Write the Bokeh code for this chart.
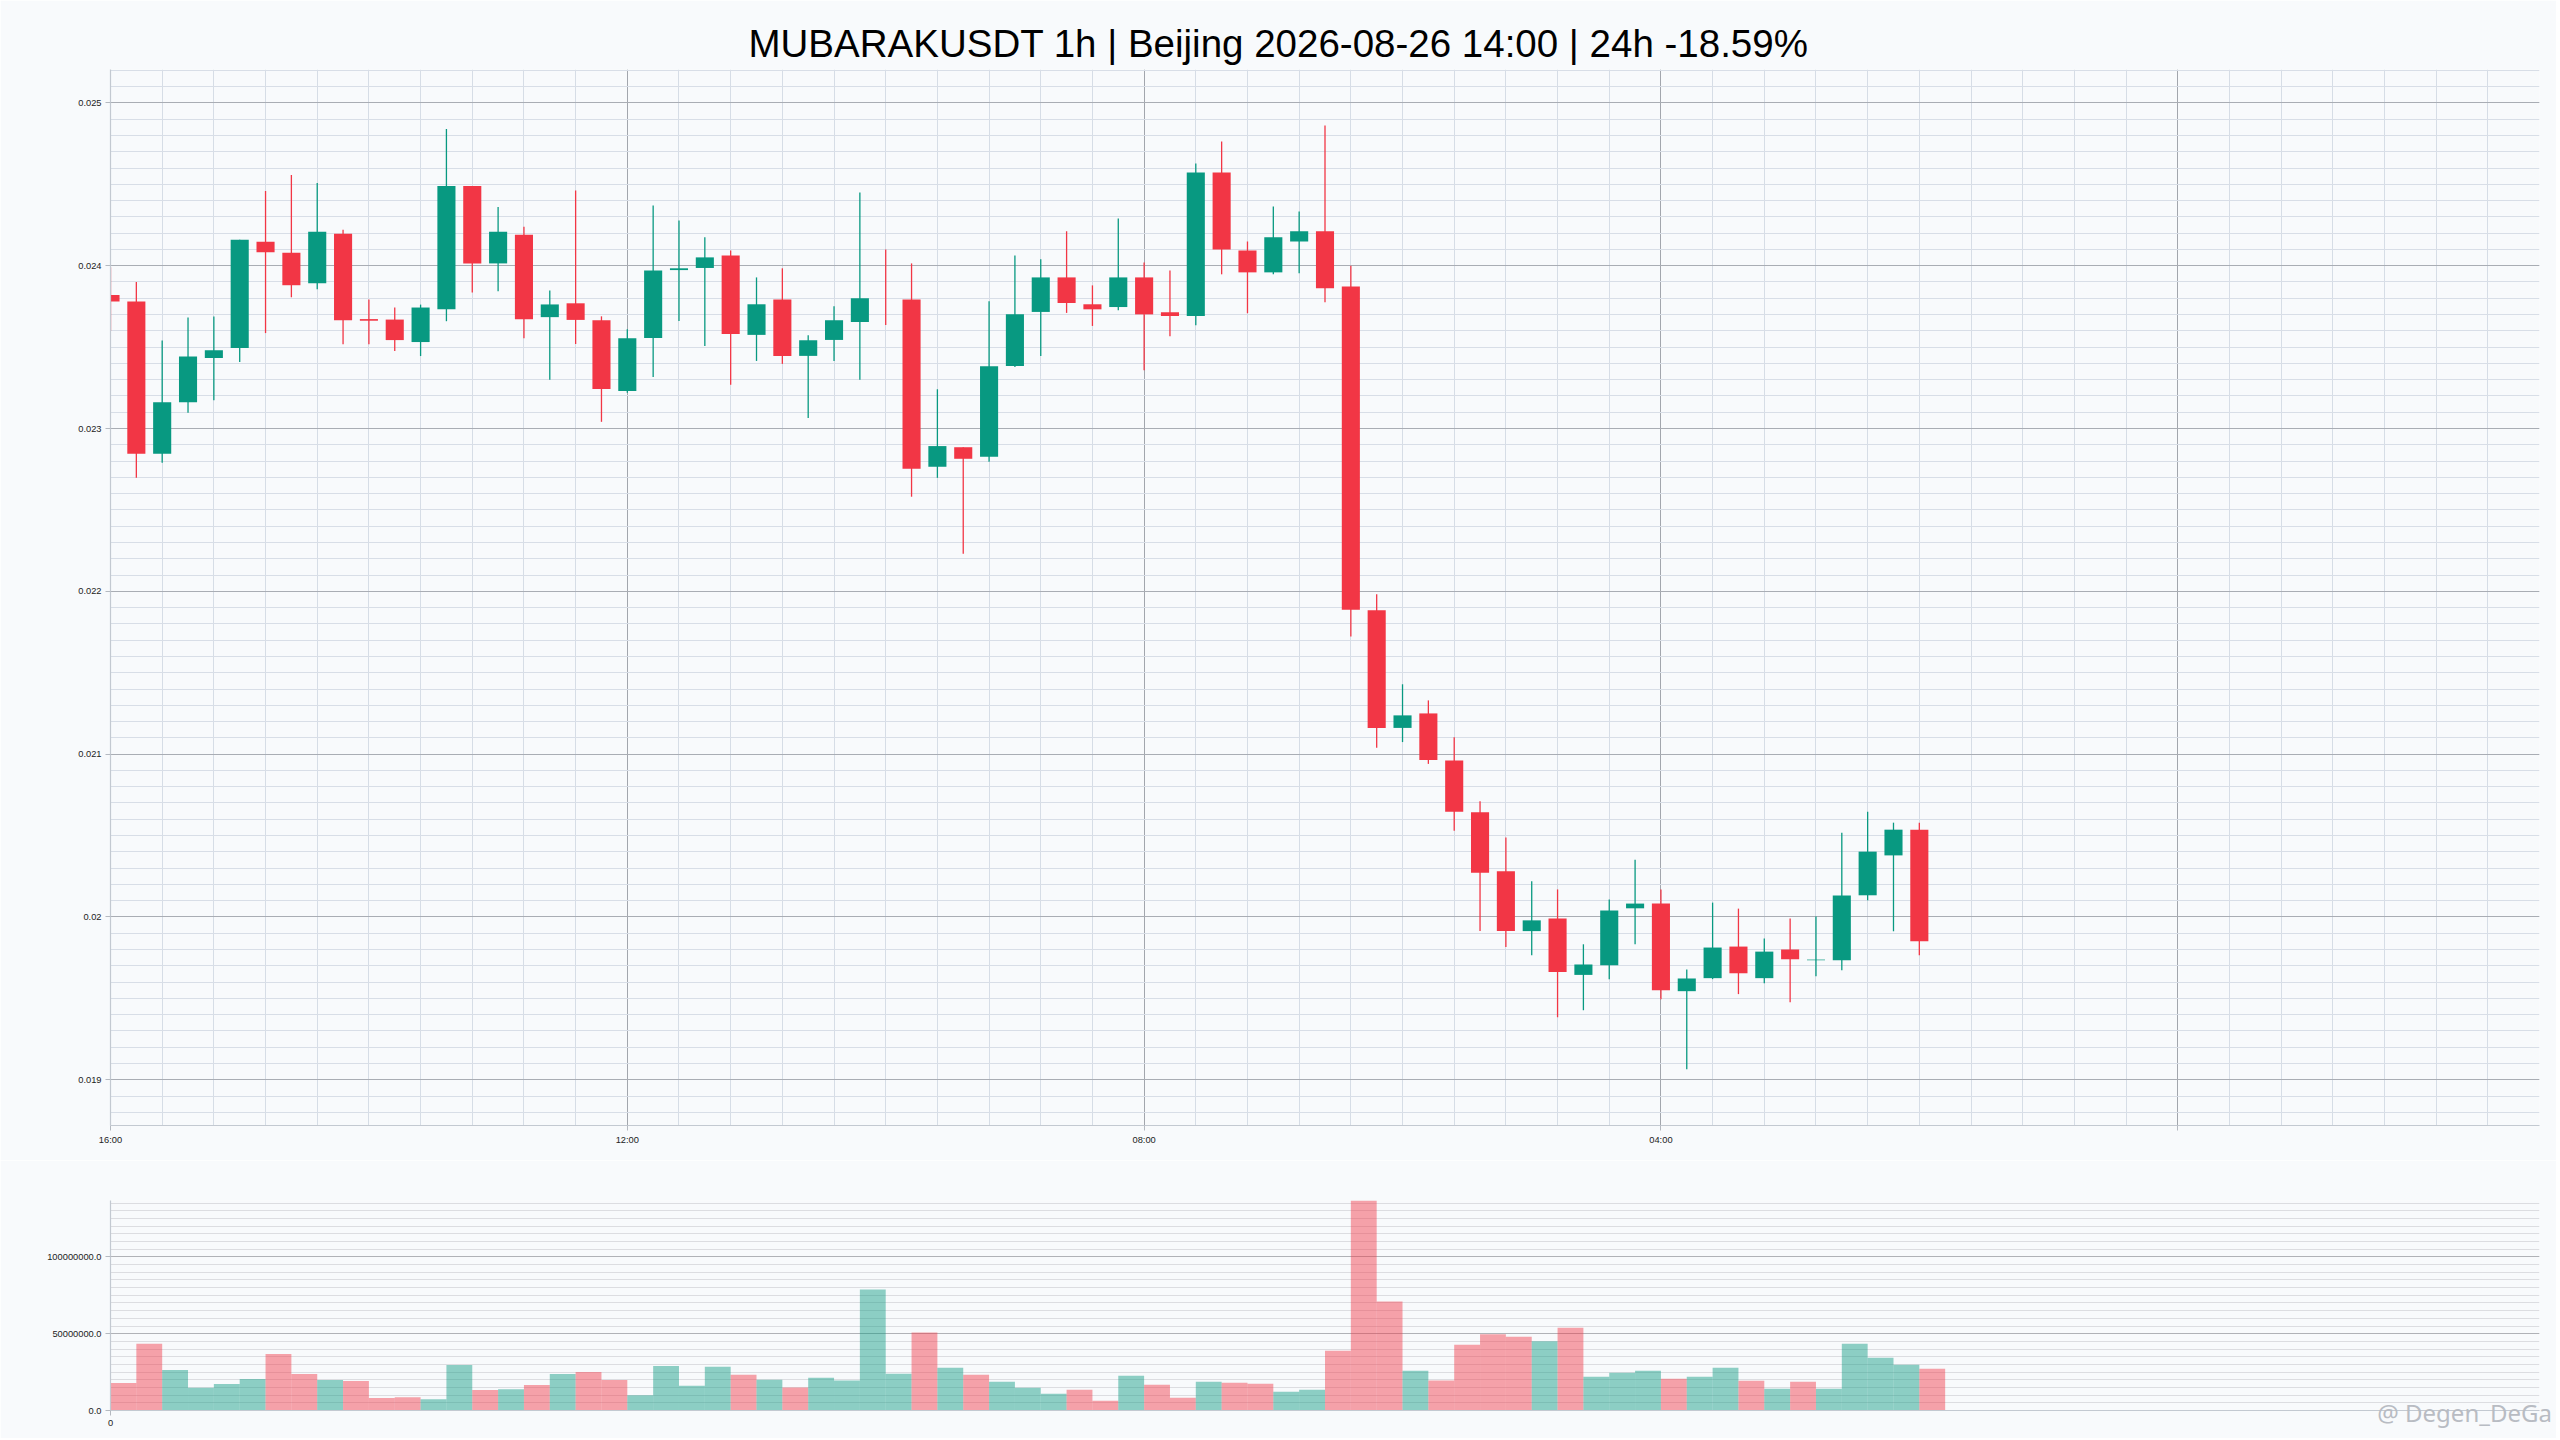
import numpy as np
from bokeh.plotting import figure
from bokeh.layouts import column
from bokeh.models import FixedTicker, ColumnDataSource, Range1d, LinearAxis
from bokeh.embed import file_html
from bokeh.resources import INLINE

title_text = "MUBARAKUSDT 1h | Beijing 2026-08-26 14:00 | 24h -18.59%"

opens = [0.023820, 0.023780, 0.022845, 0.023161, 0.023433, 0.023494, 0.024147, 0.024080, 0.023892, 0.024196,
         0.023672, 0.023669, 0.023531, 0.023733, 0.024490, 0.024014, 0.024190, 0.023684, 0.023769, 0.023665,
         0.023231, 0.023556, 0.023973, 0.023986, 0.024063, 0.023575, 0.023793, 0.023446, 0.023544, 0.023654,
         0.023800, 0.023793, 0.022765, 0.022885, 0.022826, 0.023384, 0.023716, 0.023928, 0.023763, 0.023746,
         0.023928, 0.023714, 0.023691, 0.024573, 0.024094, 0.023959, 0.024149, 0.024211, 0.023872, 0.021884,
         0.021161, 0.021250, 0.020961, 0.020643, 0.020280, 0.019913, 0.019990, 0.019644, 0.019704, 0.020053,
         0.020082, 0.019544, 0.019624, 0.019818, 0.019624, 0.019800, 0.019734, 0.019734, 0.020133, 0.020378,
         0.020536]
highs = [0.023990, 0.023900, 0.023541, 0.023682, 0.023688, 0.024159, 0.024459, 0.024557, 0.024508, 0.024220,
         0.023792, 0.023743, 0.023761, 0.024839, 0.024490, 0.024361, 0.024239, 0.023847, 0.024462, 0.023689,
         0.023609, 0.024370, 0.024278, 0.024174, 0.024094, 0.023928, 0.023984, 0.023573, 0.023751, 0.024450,
         0.024100, 0.024014, 0.023241, 0.022885, 0.023781, 0.024063, 0.024039, 0.024211, 0.023879, 0.024290,
         0.024020, 0.023971, 0.024628, 0.024763, 0.024149, 0.024364, 0.024333, 0.024861, 0.024000, 0.021982,
         0.021429, 0.021330, 0.021104, 0.020711, 0.020488, 0.020219, 0.020169, 0.019832, 0.020107, 0.020352,
         0.020168, 0.019677, 0.020088, 0.020051, 0.019867, 0.019990, 0.020002, 0.020517, 0.020646, 0.020579,
         0.020579]
lows = [0.023600, 0.022698, 0.022790, 0.023096, 0.023173, 0.023408, 0.023586, 0.023806, 0.023855, 0.023518,
        0.023518, 0.023476, 0.023445, 0.023659, 0.023835, 0.023843, 0.023555, 0.023300, 0.023519, 0.023041,
        0.023220, 0.023317, 0.023661, 0.023507, 0.023268, 0.023415, 0.023397, 0.023065, 0.023415, 0.023299,
        0.023636, 0.022581, 0.022697, 0.022231, 0.022796, 0.023378, 0.023446, 0.023710, 0.023630, 0.023726,
        0.023358, 0.023566, 0.023634, 0.023947, 0.023708, 0.023947, 0.023953, 0.023775, 0.021723, 0.021039,
        0.021074, 0.020940, 0.020530, 0.019914, 0.019815, 0.019765, 0.019384, 0.019427, 0.019618, 0.019832,
        0.019495, 0.019065, 0.019618, 0.019526, 0.019593, 0.019476, 0.019636, 0.019673, 0.020102, 0.019912,
        0.019765]
closes = [0.023780, 0.022845, 0.023161, 0.023443, 0.023480, 0.024159, 0.024082, 0.023880, 0.024208, 0.023665,
          0.023662, 0.023543, 0.023743, 0.024490, 0.024014, 0.024208, 0.023671, 0.023762, 0.023667, 0.023243,
          0.023554, 0.023971, 0.023984, 0.024051, 0.023581, 0.023763, 0.023446, 0.023542, 0.023665, 0.023800,
          0.023800, 0.022753, 0.022892, 0.022814, 0.023382, 0.023701, 0.023928, 0.023771, 0.023732, 0.023928,
          0.023701, 0.023691, 0.024573, 0.024100, 0.023959, 0.024174, 0.024211, 0.023861, 0.021887, 0.021161,
          0.021238, 0.020964, 0.020646, 0.020271, 0.019914, 0.019979, 0.019662, 0.019708, 0.020040, 0.020082,
          0.019550, 0.019622, 0.019812, 0.019654, 0.019787, 0.019740, 0.019738, 0.020131, 0.020401, 0.020536,
          0.019851]
volumes_m = [17.9, 43.4, 26.4, 14.8, 17.2, 20.5, 36.8, 23.7, 19.8, 19.2,
             8.1, 8.7, 7.4, 29.6, 13.3, 13.9, 16.6, 23.7, 25.1, 19.8,
             10.0, 29.0, 16.1, 28.5, 23.3, 20.0, 15.0, 21.3, 19.6, 78.7,
             23.9, 50.7, 27.8, 23.3, 18.7, 14.8, 10.9, 13.5, 6.3, 22.6,
             16.7, 8.3, 18.7, 18.0, 17.4, 12.2, 13.5, 38.9, 136.7, 70.9,
             25.9, 19.6, 42.8, 49.6, 48.0, 45.0, 53.9, 22.0, 24.6, 25.9,
             20.7, 22.0, 27.8, 19.3, 14.1, 18.7, 14.1, 43.5, 34.3, 29.8,
             27.2]

x_tick_pos = [0, 20, 40, 60, 80]
x_tick_labels = ["16:00", "12:00", "08:00", "04:00", ""]
y_tick_vals = [0.019, 0.020, 0.021, 0.022, 0.023, 0.024, 0.025]
y_tick_labels = ["0.019", "0.02", "0.021", "0.022", "0.023", "0.024", "0.025"]
vol_tick_vals = [0.0, 50000000.0, 100000000.0]
vol_tick_labels = ["0.0", "50000000.0", "100000000.0"]
watermark = "@ Degen_DeGa"

GREEN = "#089981"
RED = "#F23645"
BG = "#f8fafc"
FONT = "Liberation Sans"
LABEL_SIZE = "9.3px"

n = len(opens)
xs = list(range(n))
candle_col = [GREEN if c > o else RED for o, c in zip(opens, closes)]
vol_col = [GREEN if c >= o else RED for o, c in zip(opens, closes)]
src = ColumnDataSource(dict(
    x=xs, open=opens, high=highs, low=lows, close=closes,
    top=[max(o, c) for o, c in zip(opens, closes)],
    bottom=[min(o, c) for o, c in zip(opens, closes)],
    color=candle_col))
vols = [v * 1e6 for v in volumes_m]
vsrc = ColumnDataSource(dict(left=xs, right=[i + 1 for i in xs], vol=vols, color=vol_col))

X_END = 94
W = 2556

p = figure(width=W, height=1160, x_range=Range1d(0, X_END),
           y_range=Range1d(0.018719, 0.025205),
           output_backend="svg", toolbar_location=None,
           background_fill_color=BG, border_fill_color=BG,
           min_border_left=110, min_border_right=W - 2539, min_border_top=69, min_border_bottom=35)
p.outline_line_color = None
p.title.text = title_text
p.title.align = "left"
p.title.offset = 638
p.title.standoff = 9
p.title.text_font = FONT
p.title.text_font_size = "38.5px"
p.title.text_font_style = "normal"
p.title.text_color = "#000000"

p.segment(x0="x", y0="low", x1="x", y1="high", line_color="color", line_width=1.3, source=src)
p.vbar(x="x", width=0.7, top="top", bottom="bottom", fill_color="color", line_color=None, source=src)

p.xaxis.ticker = FixedTicker(ticks=x_tick_pos, minor_ticks=list(range(0, X_END + 1, 2)))
p.xaxis.major_label_overrides = dict(zip(x_tick_pos, x_tick_labels))
y_minor = [round(k * 1e-4, 6) for k in range(186, 254)]
p.yaxis.ticker = FixedTicker(ticks=y_tick_vals, minor_ticks=y_minor)
p.yaxis.major_label_overrides = dict(zip(y_tick_vals, y_tick_labels))

for ax in (p.xaxis[0], p.yaxis[0]):
    ax.axis_line_color = "#c3c9d1"
    ax.axis_line_width = 1.2
    ax.major_tick_line_color = "#b4b9c0"
    ax.major_tick_out = 5
    ax.major_tick_in = 0
    ax.minor_tick_line_color = None
    ax.major_label_text_font = FONT
    ax.major_label_text_font_size = LABEL_SIZE
    ax.major_label_text_color = "#222222"
    ax.major_label_standoff = 4

p.xgrid.grid_line_color = "#a2a6ad"
p.xgrid.minor_grid_line_color = "#d6dde6"
p.ygrid.grid_line_color = "#a9adb4"
p.ygrid.minor_grid_line_color = "#d8dee7"

VH = 278
v = figure(width=W, height=VH, x_range=Range1d(0, X_END),
           y_range=Range1d(0, max(vols)),
           output_backend="svg", toolbar_location=None,
           background_fill_color=BG, border_fill_color=BG,
           min_border_left=110, min_border_right=W - 2539, min_border_top=40, min_border_bottom=VH - 250)
v.outline_line_color = None
v.quad(left="left", right="right", top="vol", bottom=0, fill_color="color", fill_alpha=0.45,
       line_color=None, source=vsrc)
v.xaxis.ticker = FixedTicker(ticks=[0])
v.xaxis.major_label_overrides = {0: "0"}
v.yaxis.ticker = FixedTicker(ticks=vol_tick_vals, minor_ticks=[k * 5e6 for k in range(0, 29)])
v.yaxis.major_label_overrides = dict(zip(vol_tick_vals, vol_tick_labels))
for ax in (v.xaxis[0], v.yaxis[0]):
    ax.axis_line_color = "#c3c9d1"
    ax.axis_line_width = 1.2
    ax.major_tick_line_color = "#b4b9c0"
    ax.major_tick_out = 5
    ax.major_tick_in = 0
    ax.minor_tick_line_color = None
    ax.major_label_text_font = FONT
    ax.major_label_text_font_size = LABEL_SIZE
    ax.major_label_text_color = "#222222"
    ax.major_label_standoff = 4
v.xgrid.visible = False
v.ygrid.grid_line_color = "#b0b2b7"
v.ygrid.minor_grid_line_color = "#dcdde1"

# watermark drawn as the label of an extra, otherwise invisible, bottom axis
WM_X = 91.1
wm_axis = LinearAxis(ticker=FixedTicker(ticks=[WM_X]), major_label_overrides={WM_X: watermark})
wm_axis.axis_line_color = None
wm_axis.major_tick_line_color = None
wm_axis.minor_tick_line_color = None
wm_axis.major_tick_out = 0
wm_axis.major_tick_in = 0
wm_axis.major_label_standoff = -33
wm_axis.major_label_text_font = "Noto Sans"
wm_axis.major_label_text_font_size = "24px"
wm_axis.major_label_text_color = "#b8bcc3"
v.add_layout(wm_axis, "below")

layout = column(p, v, spacing=0)
open("out.html", "w").write(file_html(layout, INLINE))
